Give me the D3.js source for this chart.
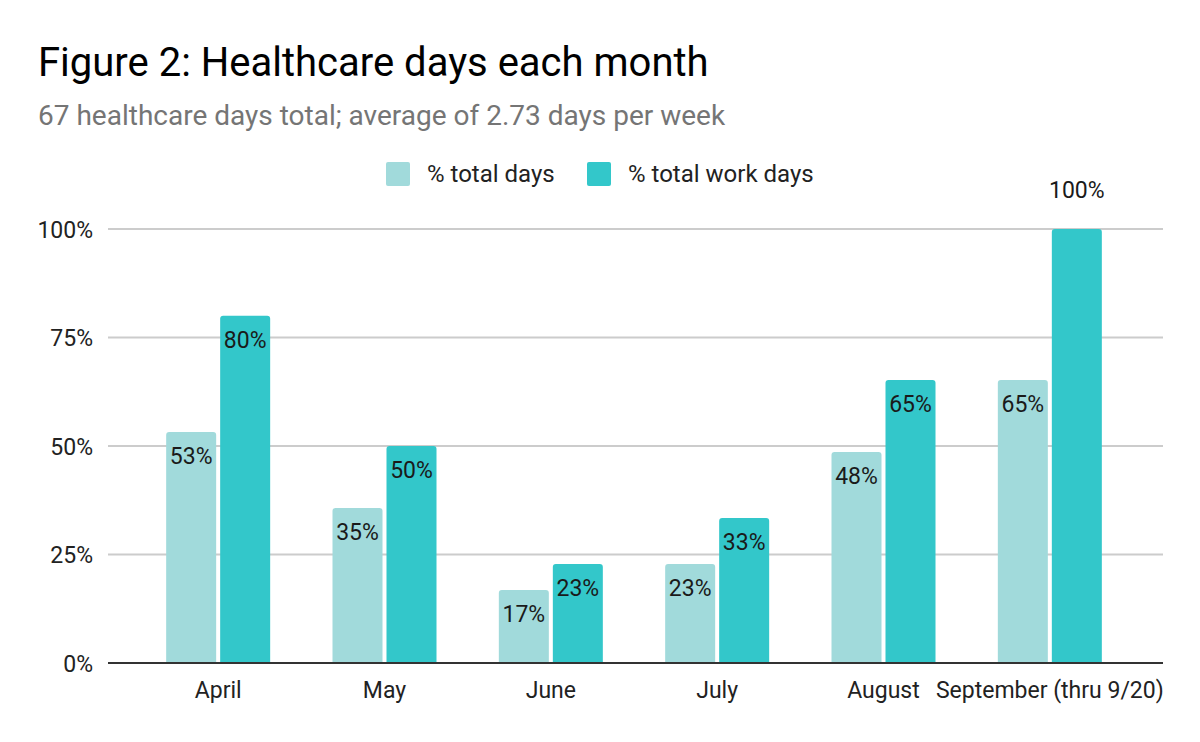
<!DOCTYPE html>
<html><head><meta charset="utf-8">
<script src="https://cdn.jsdelivr.net/npm/d3@7"></script>
<style>body{margin:0;background:#fff}svg{display:block;font-family:Roboto,"Noto Sans",sans-serif}</style>
</head><body><svg id="c" width="1200" height="742"></svg>
<script>
const categories = ["April","May","June","July","August","September (thru 9/20)"];
const seriesNames = ["% total days","% total work days"];
const totalDays = [53.2, 35.7, 16.8, 22.8, 48.6, 65.2];
const workDays = [80, 50, 22.8, 33.4, 65.2, 100];
const totalLabels = ["53%","35%","17%","23%","48%","65%"];
const workLabels = ["80%","50%","23%","33%","65%","100%"];
const yTicks = [0,25,50,75,100];
const colors = ["#a1dadb","#33c7ca"];

const svg = d3.select("#c");
const x = d3.scaleBand().domain(categories).range([135,1133]);
const y = d3.scaleLinear().domain([0,100]).range([663,229]);
const barW = 50, gap = 4;

svg.append("text").attr("x",38).attr("y",76).attr("font-size",40).attr("fill","#000").text("Figure 2: Healthcare days each month");
svg.append("text").attr("x",38).attr("y",125).attr("font-size",28).attr("fill","#757575").text("67 healthcare days total; average of 2.73 days per week");

// legend
const leg = [{x:386,tx:427},{x:587,tx:628}];
seriesNames.forEach((n,i)=>{
  svg.append("rect").attr("x",leg[i].x).attr("y",162).attr("width",24).attr("height",24).attr("rx",2).attr("fill",colors[i]);
  svg.append("text").attr("x",leg[i].tx).attr("y",182).attr("font-size",24).attr("fill","#222").text(n);
});

// grid
const yAxis = d3.axisLeft(y).tickValues(yTicks).tickFormat(d=>d+"%").tickSize(0).tickPadding(15);
const g = svg.append("g").attr("transform","translate(108,0)").call(yAxis);
g.select(".domain").remove();
g.selectAll("text").attr("font-size",23).attr("fill","#222").attr("font-family","Roboto").attr("dy","0.35em");
svg.append("g").selectAll("line").data(yTicks.filter(d=>d>0)).join("line")
  .attr("x1",108).attr("x2",1163).attr("y1",d=>y(d)).attr("y2",d=>y(d)).attr("stroke","#cccccc").attr("stroke-width",2);

function topRoundRect(x0,y0,w,h,r){
  return `M${x0},${y0+h}V${y0+r}Q${x0},${y0} ${x0+r},${y0}H${x0+w-r}Q${x0+w},${y0} ${x0+w},${y0+r}V${y0+h}Z`;
}
const series = [totalDays, workDays];
const labels = [totalLabels, workLabels];
series.forEach((vals,si)=>{
  const off = si===0 ? -gap/2-barW : gap/2;
  svg.append("g").selectAll("path").data(categories).join("path")
    .attr("d",(c,i)=>{const cx=x(c)+x.bandwidth()/2+off; return topRoundRect(cx,y(vals[i]),barW,y(0)-y(vals[i]),3);})
    .attr("fill",colors[si]);
  svg.append("g").selectAll("text").data(categories).join("text")
    .attr("x",(c,i)=>x(c)+x.bandwidth()/2+off+barW/2)
    .attr("y",(c,i)=> vals[i]>=99 ? y(vals[i])-31 : y(vals[i])+32)
    .attr("text-anchor","middle").attr("font-size",23).attr("fill","#1a1a1a")
    .text((c,i)=>labels[si][i]);
});

// baseline
svg.append("line").attr("x1",108).attr("x2",1163).attr("y1",y(0)).attr("y2",y(0)).attr("stroke","#333").attr("stroke-width",2);

// x axis labels
const xAxis = d3.axisBottom(x).tickSize(0).tickPadding(0);
const gx = svg.append("g").attr("transform",`translate(0,${y(0)})`).call(xAxis);
gx.select(".domain").remove();
gx.selectAll("text").attr("font-size",23).attr("fill","#222").attr("font-family","Roboto").attr("dy",null).attr("y",35);
</script></body></html>
